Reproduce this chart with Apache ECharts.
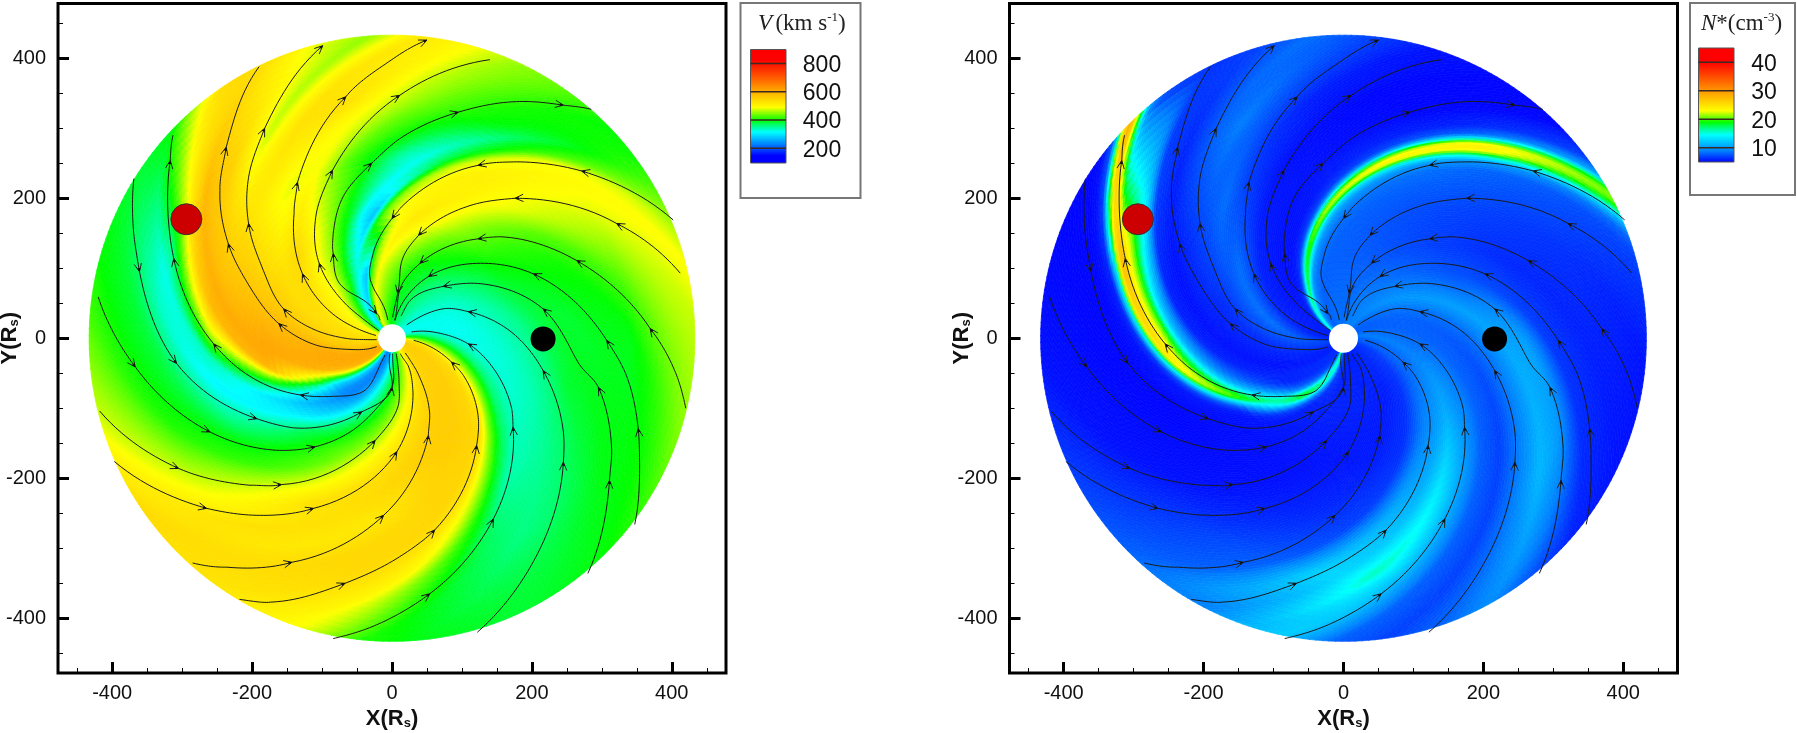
<!DOCTYPE html>
<html><head><meta charset="utf-8">
<style>html,body{margin:0;padding:0;background:#fff}#c{width:1797px;height:733px}</style>
<script src="https://cdn.jsdelivr.net/npm/echarts@6/dist/echarts.min.js"></script>
</head><body><div id="c"></div>
<script>
// ---------- values ----------
const majorTicks = [-400,-200,0,200,400];
const minorTicks = [-450,-350,-300,-250,-150,-100,-50,50,100,150,250,300,350,450];
const radii = [18,100,180,260,340,433];            // Rs, columns of the field tables
const spiralShear = 0.29;                          // degrees of longitude per Rs, read from the bands
// spiral phase (deg) of each table row
const speedPhase = [0,6,12,18,24,30,40,50,60,70,80,90,100,110,120,130,136,140,146,150,156,162,170,180,190,200,210,220,230,236,240,246,250,256,262,270,280,290,300,310,320,330,340,350];
const speedField = [
[530,540,550,545,540,525],[470,490,540,525,525,515],[420,430,440,465,500,505],[370,370,370,395,435,490],
[335,335,345,345,395,450],[320,320,330,345,375,410],[320,320,335,350,360,395],[325,325,345,365,365,390],
[335,335,355,385,380,385],[350,350,375,390,395,390],[365,365,390,385,395,400],[385,385,405,395,390,415],
[395,395,425,405,395,435],[420,420,450,430,420,450],[450,450,490,480,450,460],[490,490,520,500,480,470],
[420,420,500,510,490,485],[300,270,490,510,495,490],[310,310,430,470,490,465],[340,340,270,380,420,450],
[400,400,310,320,370,425],[440,440,385,340,395,405],[490,490,440,390,410,400],[510,510,500,430,440,430],
[530,530,540,490,480,450],[540,540,530,480,530,490],[565,565,550,510,530,520],[605,605,575,540,470,450],
[605,605,600,560,550,480],[590,590,610,580,565,510],[500,500,610,600,585,530],[350,350,590,585,520,540],
[280,280,460,530,450,535],[240,240,340,440,360,470],[230,230,290,340,320,400],[260,260,310,310,340,385],
[340,340,375,350,380,390],[395,395,410,395,395,400],[440,440,440,420,410,420],[490,490,490,480,450,445],
[530,530,530,530,490,470],[550,550,550,530,530,510],[555,555,555,520,520,540],[555,555,555,540,540,530]];
const densityPhase = [0,8,16,24,34,44,54,64,74,84,100,120,135,141,145,148,150,152,154,156,158,162,170,185,198,206,214,222,232,240,244,248,252,255,258,260,262,265,268,271,275,285,310,335,350];
const densityField = [
[8,8,9,11,12.5,9],[8,8.5,10,11.5,13,9],[9,9,11,14,16,11],[8.5,8.5,9.5,11,12,12.5],[8,8,8,8,8,8],
[8,8,7.5,7,7,7],[8.5,8.5,8.5,9,9,8],[9,10,10.5,11,11.5,9.5],[9,9,8.5,10.5,10,7.5],[9,8.5,7.5,7,6.5,6],
[8.5,8,7,6.2,6,5.5],[8.5,8,7.5,7,6.5,5.5],[8,8,8,8,7.5,6.5],[9,8.5,8.5,8.5,8,7],[10,10,10,10,10,8],
[12,15,13,14,17,11],[14,19,20,22,23,16],[15,16,22,24,24,20],[14,10,14,20,23,21],[10,7,8,11,14,19],
[7,6,6.5,7,8,11],[6,5.5,5.5,6,6,7],[6,5.5,5.5,5.5,5.2,5.2],[6,6,6,5.5,5.2,5.2],[7,8.5,8.5,7,6,5.5],
[7,7.5,7.5,8.5,7.5,6.5],[6.5,6.5,6.5,7.5,9,7.5],[6,6,6,6.5,8,8.5],[6,5.5,5.5,5.5,6,7],[6.5,6,6,6,7,6.5],
[6.5,6,7.5,9.5,13,6.5],[6.5,6,9,13,17,6.5],[6.5,7,12,20,21,7],[6.5,8,16,23,24,9],[7,10,20,25,28,20],
[7,14,20,24,24,29],[9,18,14,15,13,26],[13,19,8,7,6,8],[18,13,6,5.5,5.5,5.5],[14,8,5.5,5.5,5.2,5.2],
[8,6,5.5,5.2,5.2,5.2],[6,6,5.5,5.2,5.2,5.2],[6,6,5.5,5.5,5.5,5.5],[6.5,5.8,5.8,6.3,7.2,7],[7,6.5,6.5,7,8,8]];
// magnetic field lines, traced from the outer rim towards the Sun
const fieldLines = [
[[-99,418],[-182,300],[-205,230],[-205,164],[-184,97],[-155,42],[-108,11],[-60,-1],[-22,-2]],
[[-190,388],[-237,273],[-246,211],[-234,135],[-203,73],[-162,21],[-108,-10],[-60,-16],[-22,-12]],
[[50,426],[-9,392],[-66,345],[-135,223],[-140,178],[-128,92],[-85,35],[-23,4]],
[[140,398],[11,347],[-85,240],[-109,173],[-104,107],[-71,54],[-19,11]],
[[285,327],[245,333],[178,338],[95,323],[11,285],[-29,250],[-70,202],[-84,150],[-84,121],[-70,73],[-22,35],[-17,26]],
[[402,169],[271,239],[178,252],[123,247],[11,185],[0,171],[-27,121],[-29,78],[-6,26]],
[[412,93],[321,164],[176,200],[107,188],[38,147],[14,110],[8,64],[1,30]],
[[420,-100],[404,-46],[369,14],[264,111],[154,145],[123,142],[40,107],[11,69],[4,26]],
[[347,-266],[354,-181],[352,-129],[335,-53],[307,-3],[202,92],[121,107],[52,88],[16,52],[4,25]],
[[280,-336],[311,-203],[314,-158],[295,-70],[264,-31],[216,42],[126,78],[73,74],[26,54],[13,32]],
[[122,-420],[208,-308],[245,-177],[245,-134],[216,-46],[173,7],[109,38],[73,42],[21,19]],
[[-84,-429],[-36,-415],[11,-393],[54,-365],[145,-258],[173,-127],[171,-100],[142,-39],[109,-8],[69,7],[28,9]],
[[-218,-373],[-174,-377],[-67,-350],[11,-312],[61,-274],[121,-153],[123,-110],[102,-53],[85,-34],[31,-3]],
[[-285,-321],[-236,-327],[-143,-320],[-12,-253],[52,-139],[53,-100],[35,-46],[19,-21]],
[[-397,-176],[-265,-243],[-189,-253],[-112,-243],[7,-162],[30,-77],[23,-39],[12,-22]],
[[-418,-104],[-305,-186],[-203,-210],[-158,-209],[-24,-146],[9,-96],[10,-62],[6,-22]],
[[-420,59],[-367,-41],[-260,-134],[-165,-160],[-110,-155],[-60,-134],[-22,-100],[2,-62],[1,-22]],
[[-369,228],[-370,159],[-361,95],[-308,-36],[-193,-115],[-141,-128],[-43,-105],[0,-70],[-3,-22]],
[[-313,290],[-317,254],[-320,173],[-312,114],[-255,-8],[-222,-41],[-131,-81],[-84,-83],[-36,-72],[-10,-24]]];
// arrowheads: [line, point, +1 towards the Sun / -1 away from it]
const lineArrows = [[0,0,-1],[0,1,-1],[0,3,-1],[0,5,-1],[1,1,-1],[1,3,-1],[1,5,-1],[2,0,-1],[2,2,-1],[2,3,-1],[2,5,-1],
[3,1,-1],[3,2,-1],[3,4,-1],[4,1,-1],[4,3,-1],[4,5,-1],[4,8,-1],[4,10,1],[5,1,1],[5,3,1],[5,5,1],[6,1,1],[6,2,1],[6,4,1],[6,6,1],
[7,2,1],[7,3,1],[7,5,1],[7,6,1],[8,2,1],[8,4,1],[8,5,1],[8,7,1],[9,1,1],[9,3,1],[9,5,1],[9,7,1],[10,2,1],[10,4,1],[10,6,1],
[11,3,1],[11,4,1],[11,5,1],[11,8,1],[12,2,1],[12,4,1],[12,5,1],[12,8,1],[13,2,1],[13,3,1],[13,4,1],[14,1,1],[14,3,1],[14,4,1],
[15,1,1],[15,3,1],[15,4,1],[16,1,1],[16,2,1],[16,4,1],[17,2,1],[17,3,1],[17,4,1],[17,6,1],[17,7,1],[18,1,-1],[18,3,-1],[18,4,-1],[18,6,-1]];
const stereoA = [[-294,170]];
const earth = [[216,-1]];
const sunHole = [[0,0]];
const speedLegendTicks = [800,600,400,200];
const densityLegendTicks = [40,30,20,10];
// ---------- colour scales ----------
const speedStops = [[150,0,0,255],[230,0,128,255],[315,0,255,255],[360,0,255,128],[400,0,255,0],[445,128,255,0],[490,255,255,0],[550,255,210,0],[610,255,165,0],[700,255,90,0],[820,255,0,0]];
const densityStops = [[5,0,0,255],[9,0,128,255],[14.6,0,255,255],[17,0,255,128],[19,0,255,0],[21,128,255,0],[23,255,255,0],[26,255,210,0],[29,255,165,0],[34,255,90,0],[40,255,0,0]];
function colorOf(stops,v){
  if(v<=stops[0][0]) v=stops[0][0];
  if(v>=stops[stops.length-1][0]) v=stops[stops.length-1][0];
  for(let i=1;i<stops.length;i++){
    if(v<=stops[i][0]){const a=stops[i-1],b=stops[i],t=(v-a[0])/(b[0]-a[0]);
      return 'rgb('+Math.round(a[1]+t*(b[1]-a[1]))+','+Math.round(a[2]+t*(b[2]-a[2]))+','+Math.round(a[3]+t*(b[3]-a[3]))+')';}
  }
}
// ---------- field: one table cell per data item, shaded between its corner values ----------
function fieldSeries(phase,table,stops,ax){
  const cells=[];
  for(let i=0;i<phase.length;i++)for(let j=0;j<radii.length-1;j++)cells.push([i,j]);
  return {type:'custom',xAxisIndex:ax,yAxisIndex:ax,silent:true,animation:false,clip:false,z:2,data:cells,encode:{x:0,y:1},
    renderItem:function(p,api){
      const i=api.value(0),j=api.value(1),i2=(i+1)%phase.length;
      const f1=phase[i],f2=i2===0?phase[0]+360:phase[i2],r1=radii[j],r2=radii[j+1];
      const nf=Math.max(1,Math.ceil((f2-f1)/1.25)),nr=Math.max(1,Math.ceil((r2-r1)/9));
      const v00=table[i][j],v01=table[i][j+1],v10=table[i2][j],v11=table[i2][j+1],kids=[];
      const pt=(f,r)=>{const a=(f-spiralShear*r)*Math.PI/180;return api.coord([r*Math.cos(a),r*Math.sin(a)]);};
      for(let a=0;a<nf;a++)for(let b=0;b<nr;b++){
        const s=(a+.5)/nf,t=(b+.5)/nr,v=(1-s)*((1-t)*v00+t*v01)+s*((1-t)*v10+t*v11),c=colorOf(stops,v);
        const fa=f1+(f2-f1)*a/nf,fb=f1+(f2-f1)*(a+1)/nf,ra=r1+(r2-r1)*b/nr,rb=r1+(r2-r1)*(b+1)/nr;
        kids.push({type:'polygon',shape:{points:[pt(fa,ra),pt(fb,ra),pt(fb,rb),pt(fa,rb)]},style:{fill:c,stroke:c,lineWidth:.7}});
      }
      return {type:'group',children:kids};
    }};
}
// spiral description of a traced line: each read point as radius and spiral phase
function toSpiral(L){
  let prev=null;
  return L.map(q=>{
    let th=Math.atan2(q[1],q[0])*180/Math.PI;
    if(prev!==null){while(th-prev>180)th-=360;while(th-prev<-180)th+=360;}
    prev=th;
    const r=Math.hypot(q[0],q[1]);
    return [r,th+spiralShear*r];
  });
}
const spiralXY=(r,f)=>{const a=(f-spiralShear*r)*Math.PI/180;return [r*Math.cos(a),r*Math.sin(a)];};
function arrowSeries(ax){
  const data=lineArrows.map(a=>{
    const L=fieldLines[a[0]],S=toSpiral(L),k=a[1],p=L[k];
    const A=S[Math.max(0,k-1)],B=S[Math.min(S.length-1,k+1)],slope=(B[1]-A[1])/(B[0]-A[0]);
    const dr=a[2]>0?-6:6,q0=spiralXY(S[k][0],S[k][1]),q1=spiralXY(S[k][0]+dr,S[k][1]+slope*dr);
    return [p[0],p[1],q1[0]-q0[0],q1[1]-q0[1]];});
  return {type:'custom',xAxisIndex:ax,yAxisIndex:ax,silent:true,animation:false,clip:false,z:4,data:data,encode:{x:0,y:1},
    renderItem:function(p,api){
      const c=api.coord([api.value(0),api.value(1)]),d=api.coord([api.value(0)+api.value(2),api.value(1)+api.value(3)]);
      const ang=Math.atan2(d[1]-c[1],d[0]-c[0]),bar=(l,o)=>[c[0]+l*Math.cos(ang+o),c[1]+l*Math.sin(ang+o)];
      return {type:'group',children:[
        {type:'polyline',shape:{points:[bar(-9,.42),c,bar(-9,-.42)]},style:{stroke:'#222',lineWidth:1,fill:null}},
        {type:'polygon',shape:{points:[c,bar(-4,.45),bar(-4,-.45)]},style:{fill:'#111'}}]};
    }};
}
// each field line is one item; its read points are joined along the spiral, then go through the axes
function lineSeries(ax){
  return {type:'custom',xAxisIndex:ax,yAxisIndex:ax,silent:true,animation:false,clip:false,z:3,
    data:fieldLines.map((L,i)=>[L[0][0],L[0][1],i]),encode:{x:0,y:1},
    renderItem:function(p,api){
      const S=toSpiral(fieldLines[api.value(2)]),pts=[];
      for(let i=0;i<S.length-1;i++){
        const f0=S[Math.max(0,i-1)][1],f1=S[i][1],f2=S[i+1][1],f3=S[Math.min(S.length-1,i+2)][1];
        for(let n=0;n<14;n++){
          const t=n/14,r=S[i][0]+(S[i+1][0]-S[i][0])*t;
          const f=.5*(2*f1+(f2-f0)*t+(2*f0-5*f1+4*f2-f3)*t*t+(3*f1-f0-3*f2+f3)*t*t*t);
          pts.push(api.coord(spiralXY(r,f)));
        }
      }
      const e=S[S.length-1];pts.push(api.coord(spiralXY(e[0],e[1])));
      return {type:'polyline',shape:{points:pts},style:{stroke:'#1a1a1a',lineWidth:1,fill:null}};
    }};
}
function dots(ax,hole){
  const s=(d,size,color,border,w)=>({type:'scatter',xAxisIndex:ax,yAxisIndex:ax,data:d,symbol:'circle',symbolSize:size,silent:true,animation:false,z:5,clip:false,
    itemStyle:{color:color,borderColor:border,borderWidth:w,opacity:1}});
  return [s(sunHole,hole,'#fff','#fff',0),s(stereoA,31,'#cc0000','#333',1),s(earth,25,'#000','#000',0)];
}
const labelFont={fontFamily:'Liberation Sans, Arial',fontSize:20,color:'#111'};
const nameRich=(size)=>({b:{fontFamily:'Liberation Sans',fontWeight:'bold',fontSize:size,color:'#111'},
  s:{fontFamily:'Liberation Sans',fontWeight:'bold',fontSize:13,color:'#111',padding:[9,0,0,0]}});
function axisPair(kind,gridIndex,name){
  const main={type:'value',gridIndex:gridIndex,min:-477.5,max:477.5,position:kind==='x'?'bottom':'left',
    axisLine:{show:false,onZero:false},splitLine:{show:false},
    axisTick:{show:true,inside:true,length:11,lineStyle:{color:'#000',width:3},customValues:majorTicks},
    axisLabel:{show:true,inside:false,margin:kind==='x'?10:12,customValues:majorTicks,...labelFont,hideOverlap:false,showMinLabel:true,showMaxLabel:true},
    name:name,nameLocation:'middle',nameGap:kind==='x'?35:37,nameRotate:kind==='x'?0:90,nameMoveOverlap:false,
    nameTextStyle:{rich:nameRich(22)},animation:false};
  const minor={type:'value',gridIndex:gridIndex,min:-477.5,max:477.5,position:kind==='x'?'bottom':'left',
    axisLine:{show:false,onZero:false},splitLine:{show:false},axisLabel:{show:false},
    axisTick:{show:true,inside:true,length:5,lineStyle:{color:'#000',width:1},customValues:minorTicks}};
  return [main,minor];
}
// ---------- legends ----------
function legend(box,bar,stops,lo,hi,ticks,labelX,title,titleX,titleY){
  const y=v=>bar.y+(hi-v)/(hi-lo)*bar.height,grad=[];
  for(const s of stops){const t=(hi-s[0])/(hi-lo);if(t>=0&&t<=1)grad.push({offset:t,color:'rgb('+s[1]+','+s[2]+','+s[3]+')'});}
  grad.sort((a,b)=>a.offset-b.offset);
  const out=[
    {type:'rect',shape:box,style:{fill:'#fff',stroke:'#777',lineWidth:2},z:10},
    {type:'rect',shape:bar,style:{fill:new echarts.graphic.LinearGradient(0,0,0,1,grad),stroke:'#555',lineWidth:1},z:11},
    {type:'text',x:titleX,y:titleY,z:11,style:{text:title,rich:titleRich,fill:'#222',verticalAlign:'middle'}}];
  for(const v of ticks){
    out.push({type:'line',shape:{x1:bar.x,x2:bar.x+bar.width,y1:y(v),y2:y(v)},style:{stroke:'#3a2a20',lineWidth:1.5},z:12});
    out.push({type:'text',x:labelX,y:y(v)+2,z:12,style:{text:String(v),fontFamily:'Liberation Sans',fontSize:23,fill:'#111',align:'center',verticalAlign:'middle'}});
  }
  return out;
}
const serif='Liberation Serif';
const titleRich={i:{fontFamily:serif,fontStyle:'italic',fontSize:23,fill:'#222'},n:{fontFamily:serif,fontSize:23,fill:'#222'},
  u:{fontFamily:serif,fontSize:13,fill:'#222',padding:[0,0,12,0]}};
const chart=echarts.init(document.getElementById('c'),null,{renderer:'canvas'});
const xL=axisPair('x',0,'{b|X(R}{s|s}{b|)}'),yL=axisPair('y',0,'{b|Y(R}{s|s}{b|)}'),xR=axisPair('x',1,'{b|X(R}{s|s}{b|)}'),yR=axisPair('y',1,'{b|Y(R}{s|s}{b|)}');
const frame={show:true,backgroundColor:'#fff',borderColor:'#000',borderWidth:3,containLabel:false,outerBoundsMode:'none'};
chart.setOption({
  animation:false,backgroundColor:'#fff',
  grid:[{...frame,left:58,top:3.5,width:668,height:669.5},{...frame,left:1009.5,top:3.5,width:668,height:669.5}],
  xAxis:[...xL,...xR],
  yAxis:[yL[0],yL[1],yR[0],yR[1]].map(a=>{return {...a,min:-478.2,max:478.2};}),
  series:[
    fieldSeries(speedPhase,speedField,speedStops,0),lineSeries(0),arrowSeries(0),...dots(0,28),
    fieldSeries(densityPhase,densityField,densityStops,2),lineSeries(2),arrowSeries(2),...dots(2,29)
  ],
  graphic:[
    ...legend({x:740.5,y:3,width:120,height:195},{x:750.5,y:49.5,width:35.5,height:113.5},speedStops,95,900,speedLegendTicks,822,'{i|V} {n|(km s}{u|-1}{n|)}',758,24),
    ...legend({x:1690,y:3,width:105,height:192},{x:1698.5,y:48,width:35.5,height:114},densityStops,5,45,densityLegendTicks,1764,'{i|N}{n|*(cm}{u|-3}{n|)}',1701,24)
  ]
});
</script></body></html>
